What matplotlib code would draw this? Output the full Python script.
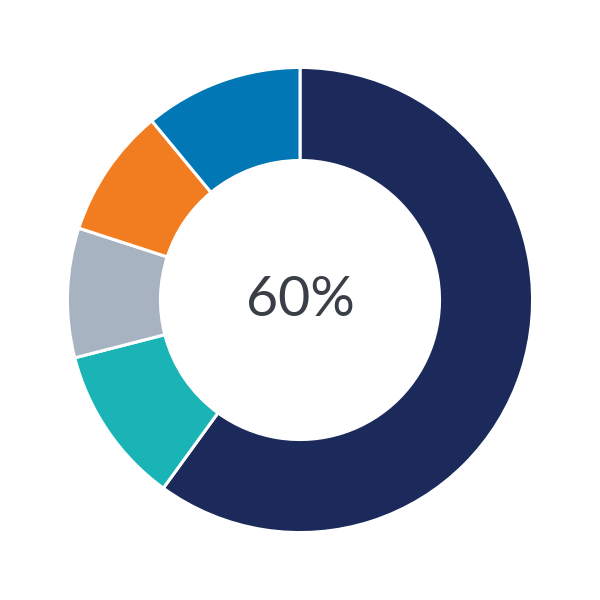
import matplotlib.pyplot as plt

labels = ["Navy", "Teal", "Gray", "Orange", "Blue"]
values = [60, 11, 9, 9, 11]
colors = ["#1b2a5b", "#1ab4b6", "#a8b3c2", "#f27d21", "#0277b5"]
center_text = "60%"

fig = plt.figure(figsize=(6, 6), dpi=100)
ax = fig.add_axes([0, 0, 1, 1])

ax.pie(values, colors=colors, startangle=90, counterclock=False,
       radius=1.0,
       wedgeprops=dict(width=0.4, edgecolor="white", linewidth=2.2))

ax.text(0, 0, center_text, ha="center", va="center", fontsize=40,
        family="Lato", color="#3a3e47")

ax.set_xlim(-1.29, 1.29)
ax.set_ylim(-1.29, 1.29)
ax.set_aspect("equal")
ax.axis("off")

fig.savefig("out.png", dpi=100, facecolor="white")
